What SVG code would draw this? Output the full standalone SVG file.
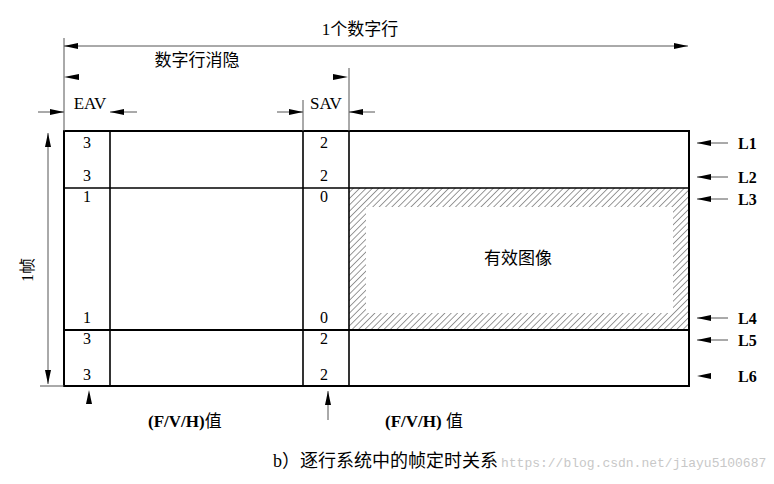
<svg xmlns="http://www.w3.org/2000/svg" width="774" height="484" viewBox="0 0 774 484">
<style>
.lat{font-family:"Liberation Serif","Noto Sans CJK SC",serif;fill:#000}
.cjk{font-family:"Noto Sans CJK SC","Liberation Serif",sans-serif;fill:#000}
.num{font-family:"Liberation Serif",serif;font-size:16px;text-anchor:middle}
.lab{font-family:"Liberation Serif",serif;font-size:16px;font-weight:bold}
.dim{stroke:#555;stroke-width:1;fill:none}
.thick{stroke:#000;stroke-width:2;fill:none}
.mid{stroke:#000;stroke-width:1.6;fill:none}
</style>
<defs>
<marker id="ah" markerUnits="userSpaceOnUse" markerWidth="15" markerHeight="7" refX="14" refY="3" orient="auto-start-reverse" viewBox="0 0 15 7">
<path d="M0,0 L14,3 L0,6 Z" fill="#000"/>
</marker>
<pattern id="hatch" patternUnits="userSpaceOnUse" width="4.5" height="4.5" patternTransform="rotate(45)">
<line x1="0" y1="0" x2="0" y2="4.5" stroke="#333" stroke-width="1"/>
</pattern>
</defs>
<rect width="774" height="484" fill="#fff"/>

<g id="frame">
<rect x="349" y="188" width="340" height="142" fill="url(#hatch)"/>
<rect x="366" y="207" width="307" height="106" fill="#fff"/>
<rect x="64" y="131" width="625" height="255" class="thick"/>
<line x1="110" y1="131" x2="110" y2="386" class="mid"/>
<line x1="303" y1="131" x2="303" y2="386" class="mid"/>
<line x1="349" y1="131" x2="349" y2="386" class="mid"/>
<line x1="64" y1="188" x2="689" y2="188" class="mid"/>
<line x1="64" y1="330" x2="689" y2="330" class="thick"/>
<text class="cjk" x="518" y="264" font-size="17" text-anchor="middle">有效图像</text>
</g>

<g id="eav-values">
<text class="num lat" x="87" y="148">3</text>
<text class="num lat" x="87" y="181">3</text>
<text class="num lat" x="87" y="202">1</text>
<text class="num lat" x="87" y="323">1</text>
<text class="num lat" x="87" y="344">3</text>
<text class="num lat" x="87" y="380">3</text>
</g>
<g id="sav-values">
<text class="num lat" x="324" y="148">2</text>
<text class="num lat" x="324" y="181">2</text>
<text class="num lat" x="324" y="202">0</text>
<text class="num lat" x="324" y="323">0</text>
<text class="num lat" x="324" y="344">2</text>
<text class="num lat" x="324" y="380">2</text>
</g>

<g id="line-labels">
<text class="lab" x="738" y="149">L1</text>
<text class="lab" x="738" y="183">L2</text>
<text class="lab" x="738" y="205">L3</text>
<text class="lab" x="738" y="324">L4</text>
<text class="lab" x="738" y="346">L5</text>
<text class="lab" x="738" y="382">L6</text>
</g>

<g id="top-labels">
<text class="cjk" x="360" y="35" font-size="17" text-anchor="middle"><tspan class="lat">1</tspan>个数字行</text>
<text class="cjk" x="197" y="66" font-size="17" text-anchor="middle">数字行消隐</text>
<text class="lat" x="90" y="109" font-size="17" text-anchor="middle">EAV</text>
<text class="lat" x="326" y="109" font-size="17" text-anchor="middle">SAV</text>
<text class="cjk" x="0" y="0" font-size="16" text-anchor="middle" transform="translate(33,270) rotate(-90)"><tspan class="lat">1</tspan>帧</text>
</g>

<g id="bottom-labels">
<text class="lat" x="148" y="427" font-size="17" font-weight="bold">(F/V/H)<tspan class="cjk" font-weight="normal">值</tspan></text>
<text class="lat" x="385" y="427" font-size="17" font-weight="bold">(F/V/H) <tspan class="cjk" font-weight="normal">值</tspan></text>
<text class="cjk" x="273" y="467" font-size="18"><tspan class="lat">b</tspan>）逐行系统中的帧定时关系</text>
<text x="501" y="467" font-family="Liberation Mono, monospace" font-size="13" fill="#c8c8c8">https://blog.csdn.net/jiayu5100687</text>
</g>

<g id="connectors">
<line x1="64" y1="38" x2="64" y2="131" class="dim"/>
<line x1="64" y1="46" x2="688" y2="46" class="dim" marker-start="url(#ah)" marker-end="url(#ah)"/>
<path d="M64,77 L79,74 L79,80 Z" fill="#000"/>
<path d="M348,77 L333,74 L333,80 Z" fill="#000"/>
<line x1="349" y1="68" x2="349" y2="131" class="dim"/>
<line x1="303" y1="100" x2="303" y2="131" class="dim"/>
<line x1="38" y1="112" x2="64" y2="112" class="dim" marker-end="url(#ah)"/>
<line x1="137" y1="112" x2="110" y2="112" class="dim" marker-end="url(#ah)"/>
<line x1="277" y1="112" x2="303" y2="112" class="dim" marker-end="url(#ah)"/>
<line x1="375" y1="112" x2="349" y2="112" class="dim" marker-end="url(#ah)"/>
<line x1="48" y1="133" x2="48" y2="384" class="dim" marker-start="url(#ah)" marker-end="url(#ah)"/>
<line x1="40" y1="386" x2="64" y2="386" class="dim"/>
<line x1="728" y1="143" x2="697" y2="143" class="dim" marker-end="url(#ah)"/>
<line x1="728" y1="177" x2="697" y2="177" class="dim" marker-end="url(#ah)"/>
<line x1="728" y1="199" x2="697" y2="199" class="dim" marker-end="url(#ah)"/>
<line x1="728" y1="318" x2="697" y2="318" class="dim" marker-end="url(#ah)"/>
<line x1="728" y1="340" x2="697" y2="340" class="dim" marker-end="url(#ah)"/>
<path d="M697,376 L711,373 L711,379 Z" fill="#000"/>
<path d="M89,390 L86,404 L92,404 Z" fill="#000"/>
<line x1="328" y1="420" x2="328" y2="391" class="dim" marker-end="url(#ah)"/>
</g>
</svg>
